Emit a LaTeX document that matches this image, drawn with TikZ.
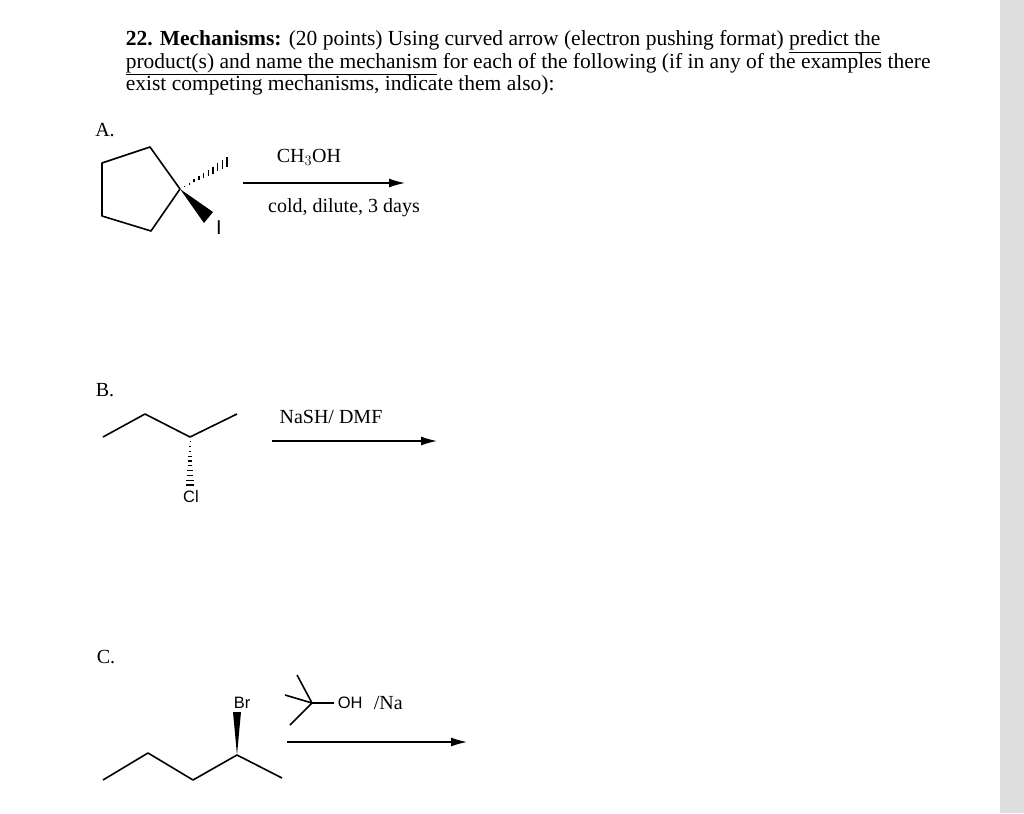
\documentclass[tikz,border=0pt]{standalone}
\usepackage{fontspec}
\setmainfont{Liberation Serif}
\newfontfamily\sansf{Liberation Sans}
\usetikzlibrary{arrows.meta,calc}
\begin{document}
\begin{tikzpicture}[x=1pt,y=-1pt,line width=1.6pt,
  hdr/.style={anchor=base west,inner sep=0pt,font=\fontsize{21.5}{22}\selectfont},
  rg/.style={inner sep=0pt,font=\fontsize{20}{22}\selectfont},
  at2/.style={inner sep=0pt,font=\sansf\fontsize{16.5}{18}\selectfont},
  arr/.style={line width=1.3pt,-{Latex[length=16pt,width=9pt]}}]
\useasboundingbox (0,0) rectangle (1024,813);
\fill[gray!25] (1000,0) rectangle (1024,813);
\node[hdr] (h1) at (125,46) {\textbf{22. Mechanisms:} (20 points) Using curved arrow (electron pushing format) \underline{predict the}};
\node[hdr] (h2) at (125,68.5) {\underline{product(s) and name the mechanism} for each of the following (if in any of the examples there};
\node[hdr] (h3) at (125,91) {exist competing mechanisms, indicate them also):};
\node[rg] (lA) at (105,130) {A.};
\node[rg] (lB) at (105,390) {B.};
\node[rg] (lC) at (106,657) {C.};
% A
\coordinate (a1) at (150,147); \coordinate (a2) at (102,163); \coordinate (a3) at (102,216);
\coordinate (a4) at (151,231); \coordinate (q) at (180,189);
\draw[line join=round] (q)--(a1)--(a2)--(a3)--(a4)--cycle;
\coordinate (me) at (227,162);
\foreach \t in {0.1,0.2,...,1.0} \draw[line width=1.4pt] ($(q)!\t!(me)+(0,-\t*5)$)--($(q)!\t!(me)+(0,\t*5)$);
\node[at2,font=\sansf\fontsize{20}{22}\selectfont] (iA) at (219,228) {I};
\fill (q)--(213,212)--(204,223)--cycle;
\node[rg] (ch) at (309,157) {CH$_3$OH};
\node[rg] (cd) at (344,208) {cold, dilute, 3 days};
\coordinate (aa1) at (243,183); \coordinate (aa2) at (405,183);
\draw[arr] (aa1)--(aa2);
% B
\coordinate (b1) at (103,437); \coordinate (b2) at (145,414); \coordinate (b3) at (190,437); \coordinate (b4) at (237,414);
\draw[line join=round] (b1)--(b2)--(b3)--(b4);
\node[at2] (cl) at (191,497) {Cl};
\foreach \t in {0.1,0.2,...,1.0} \draw[line width=1.3pt] (190-\t*4,437+\t*48)--(190+\t*4,437+\t*48);
\node[rg] (na) at (331,417) {NaSH/ DMF};
\coordinate (ba1) at (272,441); \coordinate (ba2) at (437,441);
\draw[arr] (ba1)--(ba2);
% C
\coordinate (c1) at (103,780); \coordinate (c2) at (148,753); \coordinate (c3) at (193,780); \coordinate (c4) at (237,755); \coordinate (c5) at (282,778);
\draw[line join=round] (c1)--(c2)--(c3)--(c4)--(c5);
\node[at2] (br) at (242,703) {Br};
\fill (c4)--(233,712)--(241,712)--cycle;
\coordinate (t0) at (312,703);
\draw (t0)--(297,675) (t0)--(285,695) (t0)--(290,725) (t0)--(334,703);
\node[at2,anchor=west] (oh) at (337,703) {OH};
\node[rg,anchor=west] (nac) at (373,703) {/Na};
\coordinate (ca1) at (287,742); \coordinate (ca2) at (467,742);
\draw[arr] (ca1)--(ca2);
\end{tikzpicture}
\end{document}
